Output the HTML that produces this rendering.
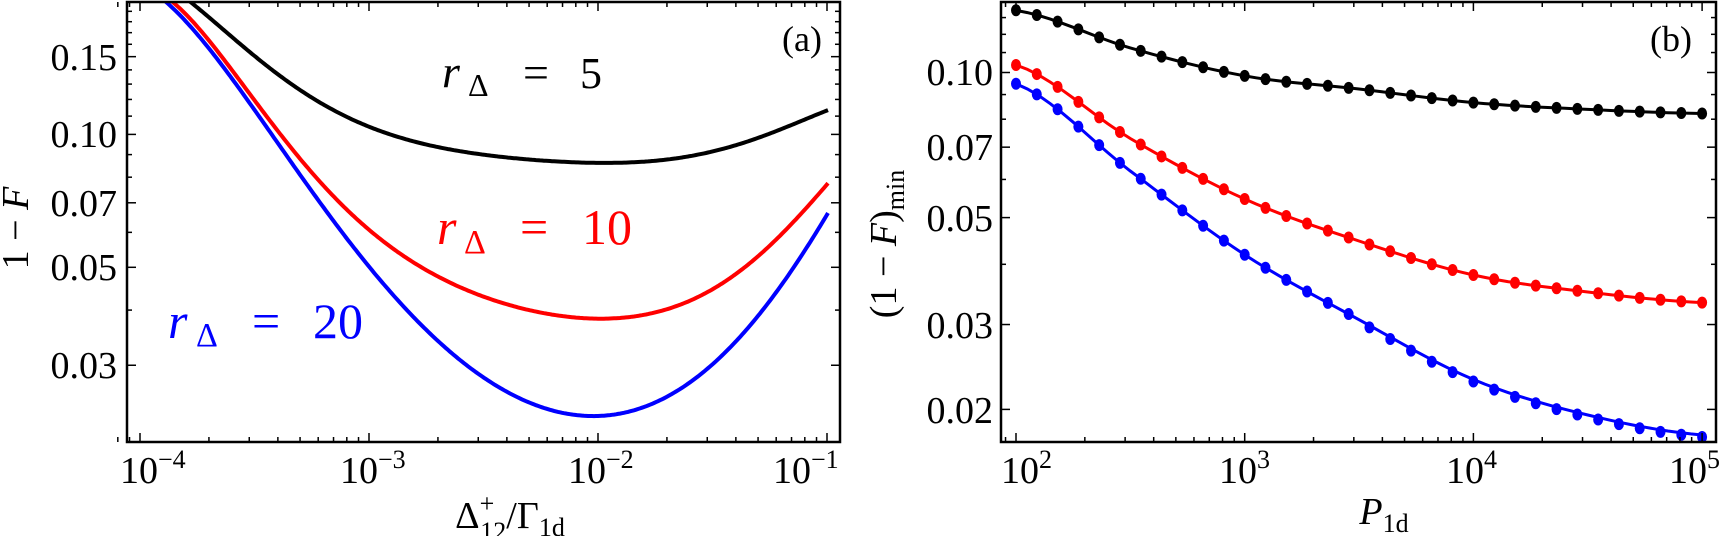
<!DOCTYPE html>
<html><head><meta charset="utf-8"><style>
html,body{margin:0;padding:0;background:#fff;}
svg{display:block;font-family:"Liberation Serif",serif;}
</style></head><body>
<svg id="s" width="1720" height="536" xmlns="http://www.w3.org/2000/svg">
<g font-size="38" fill="#000">
<text x="117" y="70" text-anchor="end">0.15</text>
<text x="117" y="147" text-anchor="end">0.10</text>
<text x="117" y="216" text-anchor="end">0.07</text>
<text x="117" y="280" text-anchor="end">0.05</text>
<text x="117" y="378" text-anchor="end">0.03</text>
<text x="120" y="483">10<tspan font-size="26" dy="-15">−4</tspan></text>
<text x="340" y="483">10<tspan font-size="26" dy="-15">−3</tspan></text>
<text x="568" y="483">10<tspan font-size="26" dy="-15">−2</tspan></text>
<text x="773" y="483">10<tspan font-size="26" dy="-15">−1</tspan></text>
<text x="993" y="85" text-anchor="end">0.10</text>
<text x="993" y="160" text-anchor="end">0.07</text>
<text x="993" y="231" text-anchor="end">0.05</text>
<text x="993" y="338" text-anchor="end">0.03</text>
<text x="993" y="423" text-anchor="end">0.02</text>
<text x="1001" y="483">10<tspan font-size="26" dy="-15">2</tspan></text>
<text x="1219" y="483">10<tspan font-size="26" dy="-15">3</tspan></text>
<text x="1446" y="483">10<tspan font-size="26" dy="-15">4</tspan></text>
<text x="1669" y="483">10<tspan font-size="26" dy="-15">5</tspan></text>
<text transform="translate(28,228) rotate(-90)" text-anchor="middle">1 − <tspan font-style="italic">F</tspan></text>
<text x="510" y="528" text-anchor="middle">Δ<tspan font-size="26" dy="-16">+</tspan><tspan font-size="26" dx="-14" dy="28">12</tspan><tspan dy="-12">/Γ</tspan><tspan font-size="26" dy="8">1d</tspan></text>
<text transform="translate(896,244) rotate(-90)" text-anchor="middle">(1 − <tspan font-style="italic">F</tspan>)<tspan font-size="26" dy="8">min</tspan></text>
<text x="1384" y="524" text-anchor="middle"><tspan font-style="italic">P</tspan><tspan font-size="26" dy="8">1d</tspan></text>
<text x="782" y="51" font-size="36">(a)</text>
<text x="1650" y="51" font-size="36">(b)</text>
</g>
<g>
<text x="442" y="87" font-size="46" font-style="italic">r</text>
<text x="468" y="96" font-size="32">Δ</text>
<text x="523" y="88" font-size="46">=</text>
<text x="580" y="88" font-size="44">5</text>
</g>
<g fill="#f00">
<text x="437" y="244" font-size="50" font-style="italic">r</text>
<text x="464" y="253" font-size="34">Δ</text>
<text x="520" y="244" font-size="50">=</text>
<text x="582" y="244" font-size="50">10</text>
</g>
<g fill="#00f">
<text x="168" y="338" font-size="50" font-style="italic">r</text>
<text x="196" y="346" font-size="34">Δ</text>
<text x="252" y="338" font-size="50">=</text>
<text x="313" y="338" font-size="50">20</text>
</g>
<g id="curves"></g>
<rect x="127" y="2" width="713" height="440" fill="none" stroke="#000" stroke-width="2.5"/>
<rect x="1001" y="2" width="715" height="440" fill="none" stroke="#000" stroke-width="2.5"/>
<g id="ticks" stroke="#000" stroke-width="1.5"></g>
</svg>
<script>
const NS="http://www.w3.org/2000/svg";
const cg=document.getElementById('curves'), tg=document.getElementById('ticks');
function el(t,a,p){const e=document.createElementNS(NS,t);for(const k in a)e.setAttribute(k,a[k]);(p||cg).appendChild(e);return e;}
function polyfit(pts,deg){const n=deg+1;const M=[];for(let i=0;i<n;i++){M.push(new Array(n+1).fill(0));}
for(const [x,y] of pts){const u=(x-500)/340;const pw=[];for(let i=0;i<2*n;i++)pw.push(Math.pow(u,i));
for(let i=0;i<n;i++){for(let j=0;j<n;j++)M[i][j]+=pw[i+j];M[i][n]+=pw[i]*y;}}
for(let i=0;i<n;i++){let p=i;for(let r=i+1;r<n;r++)if(Math.abs(M[r][i])>Math.abs(M[p][i]))p=r;[M[i],M[p]]=[M[p],M[i]];
for(let r=0;r<n;r++){if(r==i)continue;const f=M[r][i]/M[i][i];for(let c=i;c<=n;c++)M[r][c]-=f*M[i][c];}}
const co=M.map((r,i)=>r[n]/r[i]);return x=>{const u=(x-500)/340;let s=0;for(let i=n-1;i>=0;i--)s=s*u+co[i];return s;};}
const clipA=el('clipPath',{id:'ca'});el('rect',{x:127,y:2,width:713,height:440},clipA);
const A={"#000":[[188,0],[227,33],[277,73],[327,107],[377,130],[427,145],[480,153],[530,160],[587,163],[647,162],[713,150],[763,137],[828,110]],
"#f00":[[170,0],[227,63],[277,130],[327,190],[377,237],[427,270],[480,293],[530,312],[590,320],[647,313],[713,288],[763,253],[828,183]],
"#00f":[[164,0],[227,73],[277,140],[327,213],[377,277],[427,330],[480,375],[530,403],[583,415],[647,407],[713,363],[763,310],[828,213]]};
for(const c in A){const f=polyfit(A[c],6);const x1=A[c][0][0]-4;const pts=[];for(let x=x1;x<=828;x+=2)pts.push(x.toFixed(1)+","+f(x).toFixed(1));
el('path',{d:"M"+pts.join(" L"),fill:'none',stroke:c,'stroke-width':4,'clip-path':'url(#ca)'});}
const B={"#000":[10.3,47.9,75.9,89,102.6,109.4,113.5],"#f00":[65,138.5,199,241,275,292,302.6],"#00f":[83.8,171,254.7,319.7,379.5,415,435]};
const x0=1016,dec=228.7;
function interp(arr,u){const t=u*2;let i=Math.min(Math.floor(t),5);const f=t-i;const p0=arr[Math.max(i-1,0)],p1=arr[i],p2=arr[i+1],p3=arr[Math.min(i+2,6)];
return 0.5*((2*p1)+(-p0+p2)*f+(2*p0-5*p1+4*p2-p3)*f*f+(-p0+3*p1-3*p2+p3)*f*f*f);}
for(const c in B){const pts=[];for(let k=0;k<=60;k++){const u=3*k/60;pts.push([x0+u*dec,interp(B[c],u)]);}
el('path',{d:"M"+pts.map(p=>p[0].toFixed(1)+","+p[1].toFixed(1)).join(" L"),fill:'none',stroke:c,'stroke-width':3});
for(let k=0;k<=33;k++){const u=3*k/33;el('ellipse',{cx:x0+u*dec,cy:interp(B[c],u)+(c=="#00f"&&u>1.5?2:0),rx:5,ry:6,fill:c});}}
function ln(x1,y1,x2,y2){el('line',{x1,y1,x2,y2},tg);}
function xt(l,r,xs){for(const [x,maj] of xs){const L=maj?9:5;ln(x,442,x,442-L);ln(x,2,x,2+L);}}
function yt(l,r,ys){for(const [y,maj] of ys){const L=maj?9:5;ln(l,y,l+L,y);ln(r,y,r-L,y);}}
let xs=[];for(let d=-4;d<=-1;d++){for(let m=1;m<10;m++){const x=140+(d+4+Math.log10(m))*229;if(x>127&&x<840)xs.push([x,m==1]);}}
for(let m=8;m<10;m++)xs.push([140+(Math.log10(m)-1)*229,false]);
xt(127,840,xs);
let ys=[];const ya=v=>134.4-441.5*Math.log10(v/0.1);
[0.02,0.03,0.04,0.05,0.06,0.07,0.08,0.09,0.1,0.11,0.12,0.13,0.14,0.15,0.16,0.17,0.18,0.19].forEach(v=>ys.push([ya(v),[0.03,0.05,0.07,0.1,0.15].includes(v)]));
yt(127,840,ys.filter(p=>p[0]>2&&p[0]<442));
xs=[];for(let d=2;d<=5;d++){for(let m=1;m<10;m++){const x=x0+(d-2+Math.log10(m))*dec;if(x>1001&&x<1716)xs.push([x,m==1]);}}
xs.push([x0+(Math.log10(9)-1)*dec,false]);
xt(1001,1716,xs);
ys=[];const yb=v=>72.5-482*Math.log10(v/0.1);
[0.02,0.03,0.04,0.05,0.06,0.07,0.08,0.09,0.1,0.11,0.12,0.13].forEach(v=>ys.push([yb(v),[0.02,0.03,0.05,0.07,0.1].includes(v)]));
yt(1001,1716,ys.filter(p=>p[0]>2&&p[0]<442));
</script>
</body></html>
